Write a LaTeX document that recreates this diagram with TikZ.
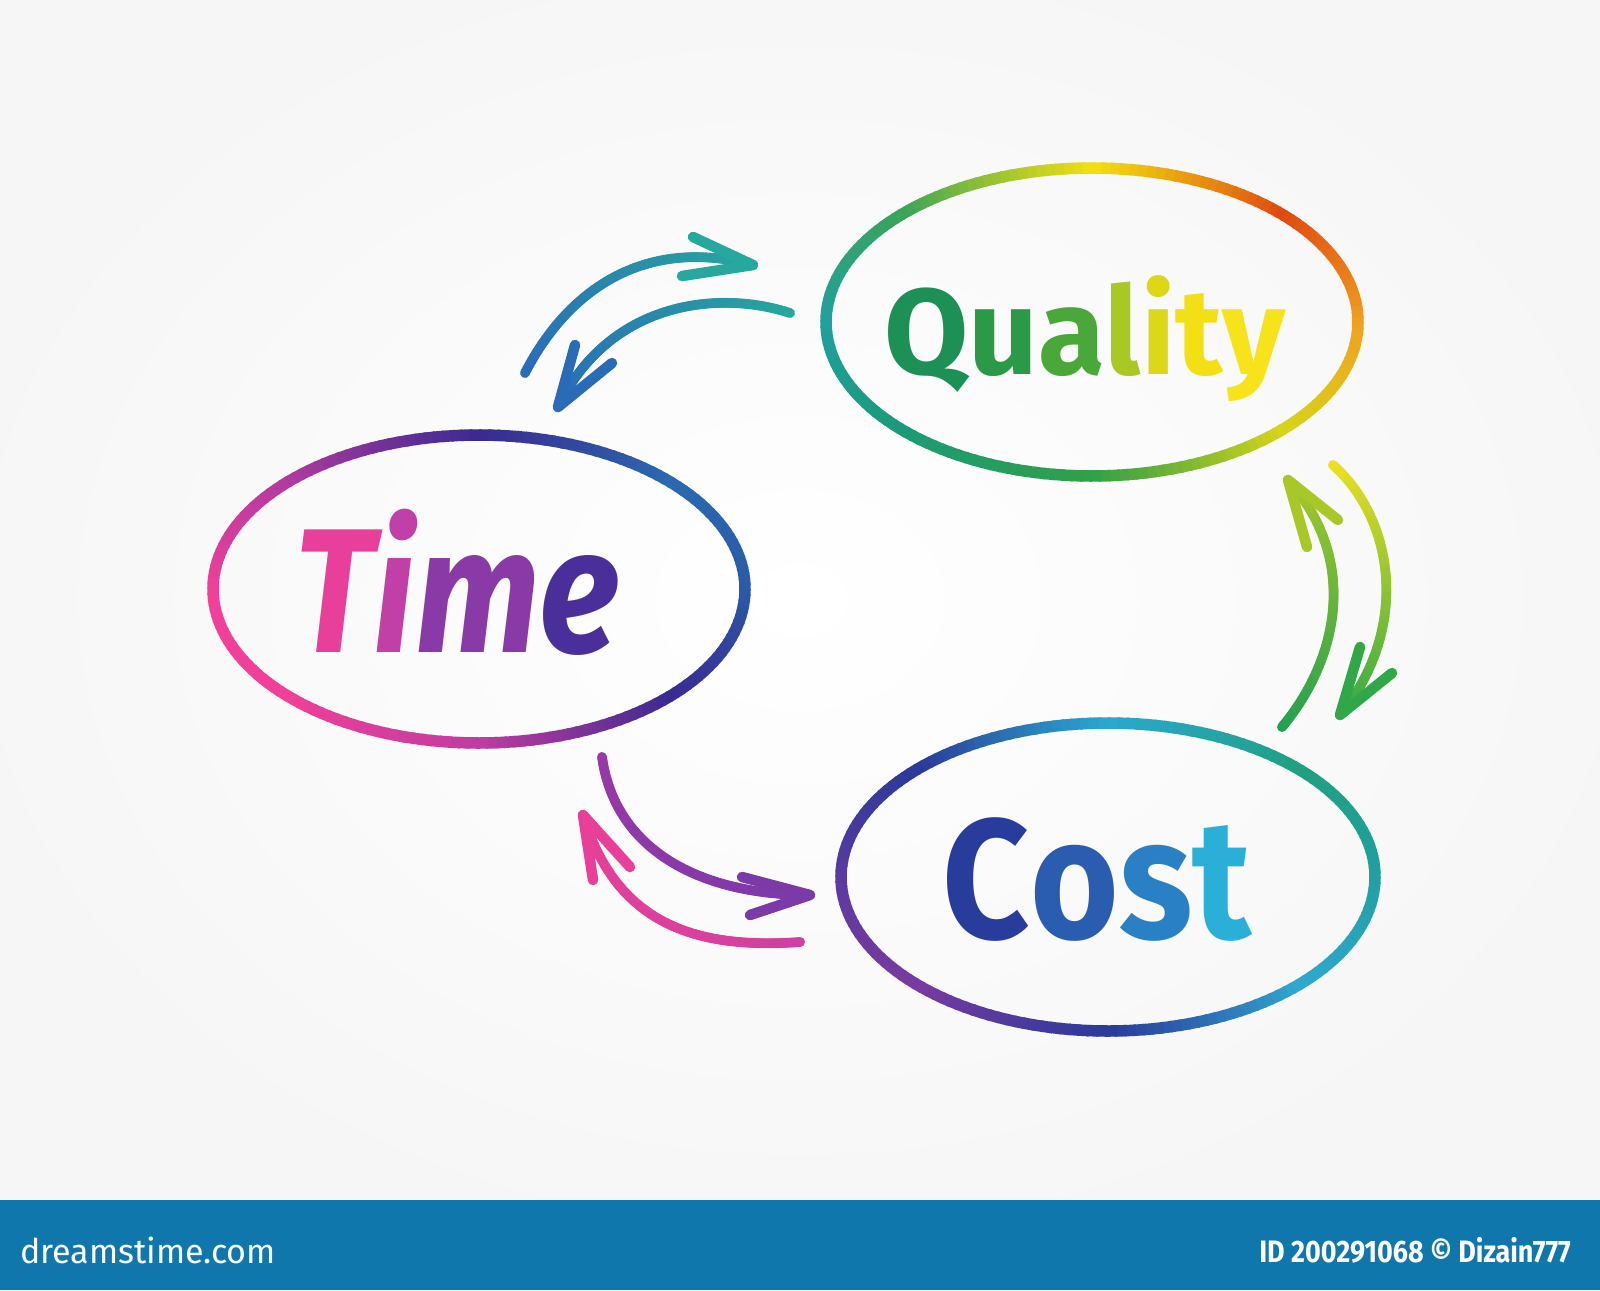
\documentclass[tikz,border=0pt]{standalone}
\usepackage{fontspec}
\setmainfont{Fira Sans}
\usetikzlibrary{decorations.markings,calc,shapes.geometric}
% quality ring stops (screen angles 0 right, 90 bottom, 180 left, 270 top)
\definecolor{qc0}{HTML}{F0A020}\definecolor{qc1}{HTML}{D8D418}
\definecolor{qc2}{HTML}{30A048}\definecolor{qc3}{HTML}{1A9A78}
\definecolor{qc4}{HTML}{20A0A0}\definecolor{qc5}{HTML}{3AA458}
\definecolor{qc6}{HTML}{F2E010}\definecolor{qc7}{HTML}{E04A10}
% time ring
\definecolor{tc0}{HTML}{2A5AA8}\definecolor{tc1}{HTML}{3A2A90}
\definecolor{tc2}{HTML}{C03CA0}\definecolor{tc3}{HTML}{F04098}
\definecolor{tc4}{HTML}{F0409A}\definecolor{tc5}{HTML}{B03AA0}
\definecolor{tc6}{HTML}{3A2A90}\definecolor{tc7}{HTML}{2A6AB0}
% cost ring
\definecolor{cc0}{HTML}{20A0A0}\definecolor{cc1}{HTML}{30A8D0}
\definecolor{cc2}{HTML}{2A3A9A}\definecolor{cc3}{HTML}{7A3AA0}
\definecolor{cc4}{HTML}{5A3AA0}\definecolor{cc5}{HTML}{2A3A98}
\definecolor{cc6}{HTML}{2AA8D0}\definecolor{cc7}{HTML}{20A080}
% letters
\definecolor{qa}{HTML}{1D9155}\definecolor{qb}{HTML}{2A9A48}\definecolor{qd}{HTML}{4AA83A}
\definecolor{qe}{HTML}{A8C824}\definecolor{qf}{HTML}{DCD818}\definecolor{qg}{HTML}{F2E014}
\definecolor{qh}{HTML}{F6E31A}
\definecolor{ta}{HTML}{E8409A}\definecolor{tb}{HTML}{C040A8}\definecolor{td}{HTML}{8A3AA6}
\definecolor{te}{HTML}{4A2E9A}
\definecolor{ca}{HTML}{283C9C}\definecolor{cb}{HTML}{2A5CB0}\definecolor{cd}{HTML}{2A80C4}
\definecolor{ce}{HTML}{2AB0D8}
% arrows
\definecolor{ablue}{HTML}{2A6BB8}\definecolor{ateal}{HTML}{26A89E}
\definecolor{agreen}{HTML}{22A050}\definecolor{ayg}{HTML}{A8C828}
\definecolor{ayel}{HTML}{F0E020}\definecolor{agr2}{HTML}{30A848}
\definecolor{apur1}{HTML}{9A38A8}\definecolor{apur2}{HTML}{7A3AA8}
\definecolor{apk1}{HTML}{D040A0}\definecolor{apk2}{HTML}{E84098}
\definecolor{barblue}{RGB}{16,119,173}

\newcommand\gradring[4]{%
  \foreach \a in {0,2,...,358}{%
    \pgfmathtruncatemacro\kk{floor(\a/45)}%
    \pgfmathtruncatemacro\kn{mod(\kk+1,8)}%
    \pgfmathtruncatemacro\pp{round(100*(\a+1-45*\kk)/45)}%
    \draw[line width=11.5pt, color=#4\kn!\pp!#4\kk] ($(#1)+(\a:#2 and #3)$)
      arc[start angle=\a, end angle=\a+2.6, x radius=#2, y radius=#3];
  }}

\tikzset{
  gshaft/.style 2 args={decoration={markings,
    mark=between positions 0 and 1 step 1.5pt with {%
      \pgfmathsetmacro\ff{\pgfkeysvalueof{/pgf/decoration/mark info/distance from start}/\pgfdecoratedpathlength}%
      \pgfmathtruncatemacro\pp{min(100,100*\ff)}%
      \fill[#2!\pp!#1] (0,0) circle (5pt);}}, decorate},
  ahead/.style={line width=10.5pt, line cap=round, line join=round},
  ring/.style={ellipse, minimum width=532pt, minimum height=308pt, inner sep=0pt},
  word/.style={anchor=base, inner sep=0pt}
}

\begin{document}
\begin{tikzpicture}[x=1pt,y=-1pt]
\useasboundingbox (0,0) rectangle (1600,1290);
\shade[inner color=white, outer color=black!3.5] (-60,-60) rectangle (1660,1260);
\fill[barblue] (0,1200) rectangle (1600,1290);

% rings
\node[ring] (q) at (1092,322) {};
\node[ring] (t) at (479,589) {};
\node[ring] (c) at (1108,877) {};
\gradring{q}{266}{154}{qc}
\gradring{t}{266}{154}{tc}
\gradring{c}{267}{154}{cc}

% words
\node[word, font=\fontsize{122}{122}\selectfont\bfseries] (qw) at (1085,374)
  {\textcolor{qa}{Q}\textcolor{qb}{u}\textcolor{qd}{a}\textcolor{qe}{l}\textcolor{qf}{i}\textcolor{qg}{t}\textcolor{qh}{y}};
\node[word, font=\fontsize{150}{150}\selectfont\bfseries\itshape] (tw) at (457,652)
  {\scalebox{1}[1.18]{\textcolor{ta}{T}\textcolor{tb}{i}\textcolor{td}{m}\textcolor{te}{e}}};
\node[word, font=\fontsize{152}{152}\selectfont\bfseries] (cw) at (1097,938)
  {\scalebox{1}[1.12]{\textcolor{ca}{C}\textcolor{cb}{o}\textcolor{cd}{s}\textcolor{ce}{t}}};

% arrow end points
\coordinate (a0) at (525,373);  \coordinate (a1) at (753,265);
\coordinate (ab1) at (693,237); \coordinate (ab2) at (682,276);
\coordinate (b0) at (790,313);  \coordinate (b1) at (558,407);
\coordinate (bb1) at (575,345); \coordinate (bb2) at (612,363);
\coordinate (c0) at (1282,727); \coordinate (c1) at (1288,480);
\coordinate (cb1) at (1307,547);\coordinate (cb2) at (1338,520);
\coordinate (d0) at (1333,465); \coordinate (d1) at (1340,715);
\coordinate (db1) at (1360,647);\coordinate (db2) at (1392,673);
\coordinate (e0) at (602,757);  \coordinate (e1) at (810,895);
\coordinate (eb1) at (742,877); \coordinate (eb2) at (750,915);
\coordinate (f0) at (800,942);  \coordinate (f1) at (583,815);
\coordinate (fb1) at (593,880); \coordinate (fb2) at (630,867);

% shafts
\path[gshaft={ablue}{ateal}] (a0) .. controls (565,295) and (640,235) .. (a1);
\path[gshaft={ateal}{ablue}] (b0) .. controls (720,290) and (610,300) .. (b1);
\path[gshaft={agreen}{ayg}] (c0) .. controls (1338,660) and (1360,560) .. (c1);
\path[gshaft={ayel}{agr2}] (d0) .. controls (1395,520) and (1410,630) .. (d1);
\path[gshaft={apur1}{apur2}] (e0) .. controls (615,850) and (700,895) .. (e1);
\path[gshaft={apk1}{apk2}] (f0) .. controls (690,950) and (615,920) .. (f1);

% heads
\draw[ahead, ateal] (ab1) -- (a1) -- (ab2);
\draw[ahead, ablue] (bb1) -- (b1) -- (bb2);
\draw[ahead, ayg] (cb1) -- (c1) -- (cb2);
\draw[ahead, agr2] (db1) -- (d1) -- (db2);
\draw[ahead, apur2] (eb1) -- (e1) -- (eb2);
\draw[ahead, apk2] (fb1) -- (f1) -- (fb2);

% footer
\node[anchor=base west, inner sep=0pt, text=white, font=\fontsize{34}{34}\selectfont] (logo) at (20,1263) {dreamstime.com};
\node[anchor=base east, inner sep=0pt, text=white, font=\fontsize{31}{31}\selectfont\bfseries] (idt) at (1571,1262)
  {\scalebox{0.87}[1]{ID 200291068 © Dizain777}};
\end{tikzpicture}
\end{document}
